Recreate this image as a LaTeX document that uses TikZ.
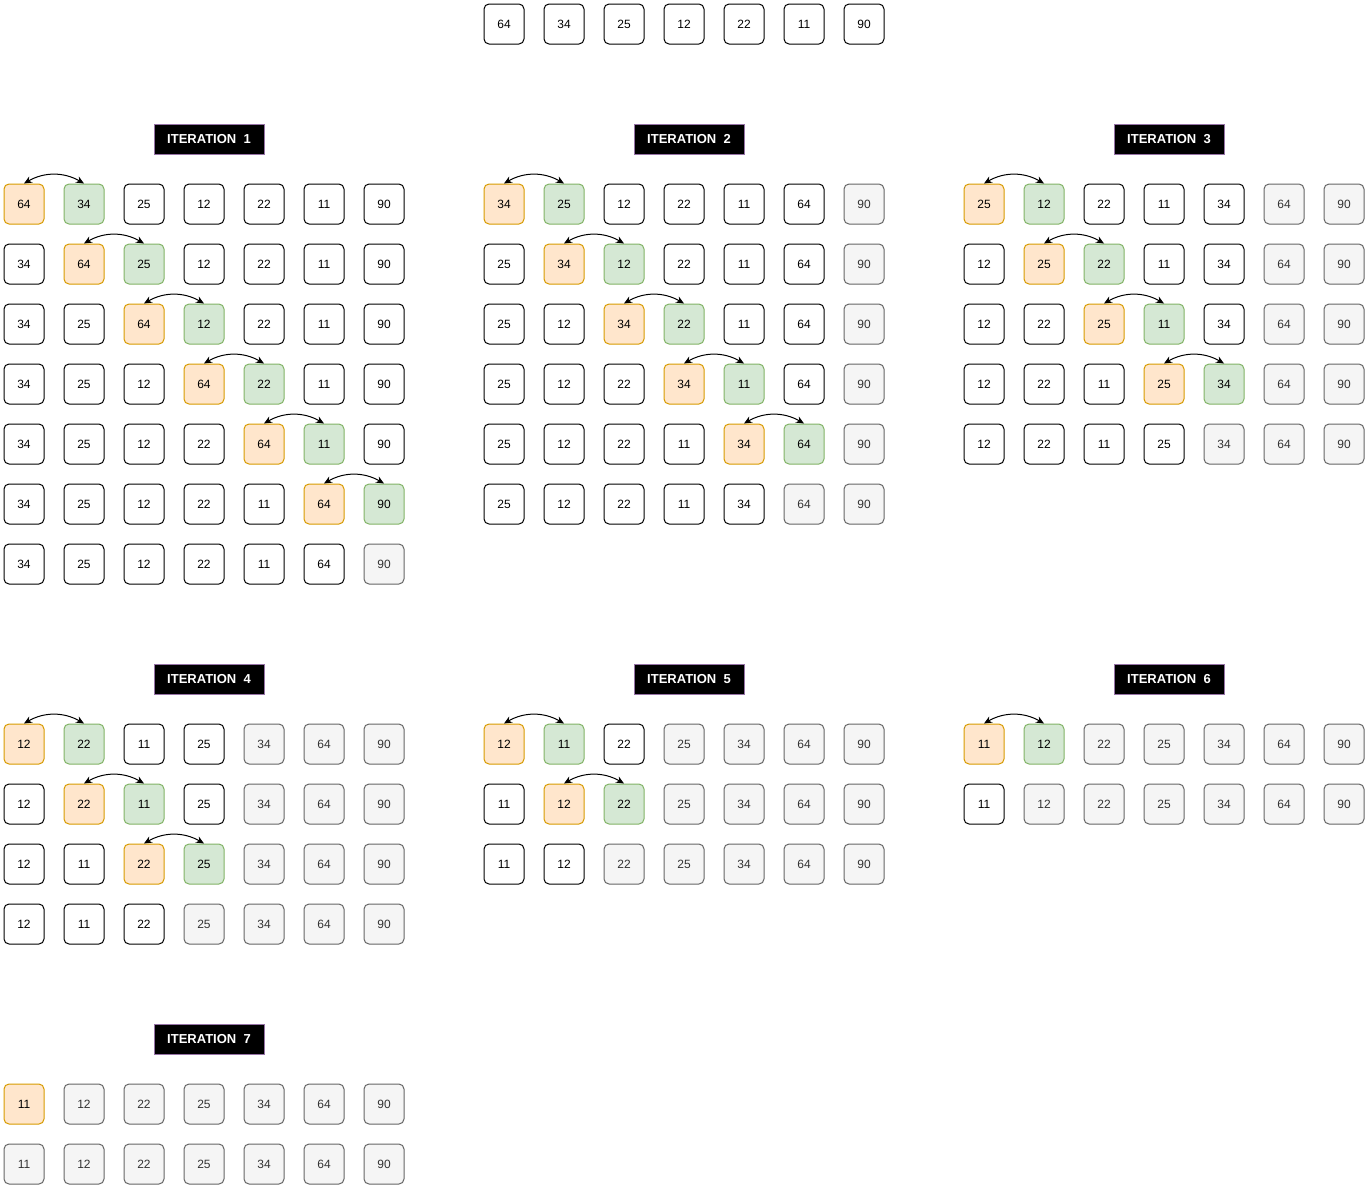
\documentclass[tikz,border=0pt]{standalone}
\usepackage{fontspec}
\setmainfont{Liberation Sans}
\usepackage{tikz}
\usetikzlibrary{arrows.meta}
\definecolor{curfill}{HTML}{FFE6CC}
\definecolor{curline}{HTML}{D79B00}
\definecolor{nxtfill}{HTML}{D5E8D4}
\definecolor{nxtline}{HTML}{82B366}
\definecolor{donefill}{HTML}{F5F5F5}
\definecolor{doneline}{HTML}{666666}
\definecolor{donetext}{HTML}{333333}
\definecolor{headline}{HTML}{9673A6}

\begin{document}
\begin{tikzpicture}[
		x=1pt, y=-1pt,
		cell/.style={draw,rounded corners=5pt,minimum size=40pt,inner sep=0pt,line width=1pt,
			font=\fontsize{12}{14}\selectfont},
		cur/.style={cell,draw=curline,fill=curfill},
		nxt/.style={cell,draw=nxtline,fill=nxtfill},
		done/.style={cell,draw=doneline,fill=donefill,text=donetext},
		head/.style={draw=headline,fill=black,text=white,minimum width=110pt,minimum height=30pt,
			line width=1pt,font=\fontsize{13}{15}\selectfont\bfseries},
		swap/.style={<->,line width=1pt},
		>={Stealth[length=8pt,width=7pt]}]
	\useasboundingbox (0,0) rectangle (1371,1192);
	%% input array
	\foreach \v [count=\i from 0] in {64,34,25,12,22,11,90}
		\node[cell] (t\i) at (504+60*\i,24) {\v};
	%% headers
	\node[head] (h1) at (209,139) {ITERATION\ \ 1};
	\node[head] (h2) at (689,139) {ITERATION\ \ 2};
	\node[head] (h3) at (1169,139) {ITERATION\ \ 3};
	\node[head] (h4) at (209,679) {ITERATION\ \ 4};
	\node[head] (h5) at (689,679) {ITERATION\ \ 5};
	\node[head] (h6) at (1169,679) {ITERATION\ \ 6};
	\node[head] (h7) at (209,1039) {ITERATION\ \ 7};
	%% iteration 1
	\foreach \v/\s [count=\i from 0] in {64/cur,34/nxt,25/cell,12/cell,22/cell,11/cell,90/cell}
		\node[\s] (a0\i) at (24+60*\i,204) {\v};
	\foreach \v/\s [count=\i from 0] in {34/cell,64/cur,25/nxt,12/cell,22/cell,11/cell,90/cell}
		\node[\s] (a1\i) at (24+60*\i,264) {\v};
	\foreach \v/\s [count=\i from 0] in {34/cell,25/cell,64/cur,12/nxt,22/cell,11/cell,90/cell}
		\node[\s] (a2\i) at (24+60*\i,324) {\v};
	\foreach \v/\s [count=\i from 0] in {34/cell,25/cell,12/cell,64/cur,22/nxt,11/cell,90/cell}
		\node[\s] (a3\i) at (24+60*\i,384) {\v};
	\foreach \v/\s [count=\i from 0] in {34/cell,25/cell,12/cell,22/cell,64/cur,11/nxt,90/cell}
		\node[\s] (a4\i) at (24+60*\i,444) {\v};
	\foreach \v/\s [count=\i from 0] in {34/cell,25/cell,12/cell,22/cell,11/cell,64/cur,90/nxt}
		\node[\s] (a5\i) at (24+60*\i,504) {\v};
	\foreach \v/\s [count=\i from 0] in {34/cell,25/cell,12/cell,22/cell,11/cell,64/cell,90/done}
		\node[\s] (a6\i) at (24+60*\i,564) {\v};
	\draw[swap] (a00.north) to[bend left=30] (a01.north);
	\draw[swap] (a11.north) to[bend left=30] (a12.north);
	\draw[swap] (a22.north) to[bend left=30] (a23.north);
	\draw[swap] (a33.north) to[bend left=30] (a34.north);
	\draw[swap] (a44.north) to[bend left=30] (a45.north);
	\draw[swap] (a55.north) to[bend left=30] (a56.north);
	%% iteration 2
	\foreach \v/\s [count=\i from 0] in {34/cur,25/nxt,12/cell,22/cell,11/cell,64/cell,90/done}
		\node[\s] (b0\i) at (504+60*\i,204) {\v};
	\foreach \v/\s [count=\i from 0] in {25/cell,34/cur,12/nxt,22/cell,11/cell,64/cell,90/done}
		\node[\s] (b1\i) at (504+60*\i,264) {\v};
	\foreach \v/\s [count=\i from 0] in {25/cell,12/cell,34/cur,22/nxt,11/cell,64/cell,90/done}
		\node[\s] (b2\i) at (504+60*\i,324) {\v};
	\foreach \v/\s [count=\i from 0] in {25/cell,12/cell,22/cell,34/cur,11/nxt,64/cell,90/done}
		\node[\s] (b3\i) at (504+60*\i,384) {\v};
	\foreach \v/\s [count=\i from 0] in {25/cell,12/cell,22/cell,11/cell,34/cur,64/nxt,90/done}
		\node[\s] (b4\i) at (504+60*\i,444) {\v};
	\foreach \v/\s [count=\i from 0] in {25/cell,12/cell,22/cell,11/cell,34/cell,64/done,90/done}
		\node[\s] (b5\i) at (504+60*\i,504) {\v};
	\draw[swap] (b00.north) to[bend left=30] (b01.north);
	\draw[swap] (b11.north) to[bend left=30] (b12.north);
	\draw[swap] (b22.north) to[bend left=30] (b23.north);
	\draw[swap] (b33.north) to[bend left=30] (b34.north);
	\draw[swap] (b44.north) to[bend left=30] (b45.north);
	%% iteration 3
	\foreach \v/\s [count=\i from 0] in {25/cur,12/nxt,22/cell,11/cell,34/cell,64/done,90/done}
		\node[\s] (c0\i) at (984+60*\i,204) {\v};
	\foreach \v/\s [count=\i from 0] in {12/cell,25/cur,22/nxt,11/cell,34/cell,64/done,90/done}
		\node[\s] (c1\i) at (984+60*\i,264) {\v};
	\foreach \v/\s [count=\i from 0] in {12/cell,22/cell,25/cur,11/nxt,34/cell,64/done,90/done}
		\node[\s] (c2\i) at (984+60*\i,324) {\v};
	\foreach \v/\s [count=\i from 0] in {12/cell,22/cell,11/cell,25/cur,34/nxt,64/done,90/done}
		\node[\s] (c3\i) at (984+60*\i,384) {\v};
	\foreach \v/\s [count=\i from 0] in {12/cell,22/cell,11/cell,25/cell,34/done,64/done,90/done}
		\node[\s] (c4\i) at (984+60*\i,444) {\v};
	\draw[swap] (c00.north) to[bend left=30] (c01.north);
	\draw[swap] (c11.north) to[bend left=30] (c12.north);
	\draw[swap] (c22.north) to[bend left=30] (c23.north);
	\draw[swap] (c33.north) to[bend left=30] (c34.north);
	%% iteration 4
	\foreach \v/\s [count=\i from 0] in {12/cur,22/nxt,11/cell,25/cell,34/done,64/done,90/done}
		\node[\s] (d0\i) at (24+60*\i,744) {\v};
	\foreach \v/\s [count=\i from 0] in {12/cell,22/cur,11/nxt,25/cell,34/done,64/done,90/done}
		\node[\s] (d1\i) at (24+60*\i,804) {\v};
	\foreach \v/\s [count=\i from 0] in {12/cell,11/cell,22/cur,25/nxt,34/done,64/done,90/done}
		\node[\s] (d2\i) at (24+60*\i,864) {\v};
	\foreach \v/\s [count=\i from 0] in {12/cell,11/cell,22/cell,25/done,34/done,64/done,90/done}
		\node[\s] (d3\i) at (24+60*\i,924) {\v};
	\draw[swap] (d00.north) to[bend left=30] (d01.north);
	\draw[swap] (d11.north) to[bend left=30] (d12.north);
	\draw[swap] (d22.north) to[bend left=30] (d23.north);
	%% iteration 5
	\foreach \v/\s [count=\i from 0] in {12/cur,11/nxt,22/cell,25/done,34/done,64/done,90/done}
		\node[\s] (e0\i) at (504+60*\i,744) {\v};
	\foreach \v/\s [count=\i from 0] in {11/cell,12/cur,22/nxt,25/done,34/done,64/done,90/done}
		\node[\s] (e1\i) at (504+60*\i,804) {\v};
	\foreach \v/\s [count=\i from 0] in {11/cell,12/cell,22/done,25/done,34/done,64/done,90/done}
		\node[\s] (e2\i) at (504+60*\i,864) {\v};
	\draw[swap] (e00.north) to[bend left=30] (e01.north);
	\draw[swap] (e11.north) to[bend left=30] (e12.north);
	%% iteration 6
	\foreach \v/\s [count=\i from 0] in {11/cur,12/nxt,22/done,25/done,34/done,64/done,90/done}
		\node[\s] (f0\i) at (984+60*\i,744) {\v};
	\foreach \v/\s [count=\i from 0] in {11/cell,12/done,22/done,25/done,34/done,64/done,90/done}
		\node[\s] (f1\i) at (984+60*\i,804) {\v};
	\draw[swap] (f00.north) to[bend left=30] (f01.north);
	%% iteration 7
	\foreach \v/\s [count=\i from 0] in {11/cur,12/done,22/done,25/done,34/done,64/done,90/done}
		\node[\s] (g0\i) at (24+60*\i,1104) {\v};
	\foreach \v/\s [count=\i from 0] in {11/done,12/done,22/done,25/done,34/done,64/done,90/done}
		\node[\s] (g1\i) at (24+60*\i,1164) {\v};
\end{tikzpicture}
\end{document}
